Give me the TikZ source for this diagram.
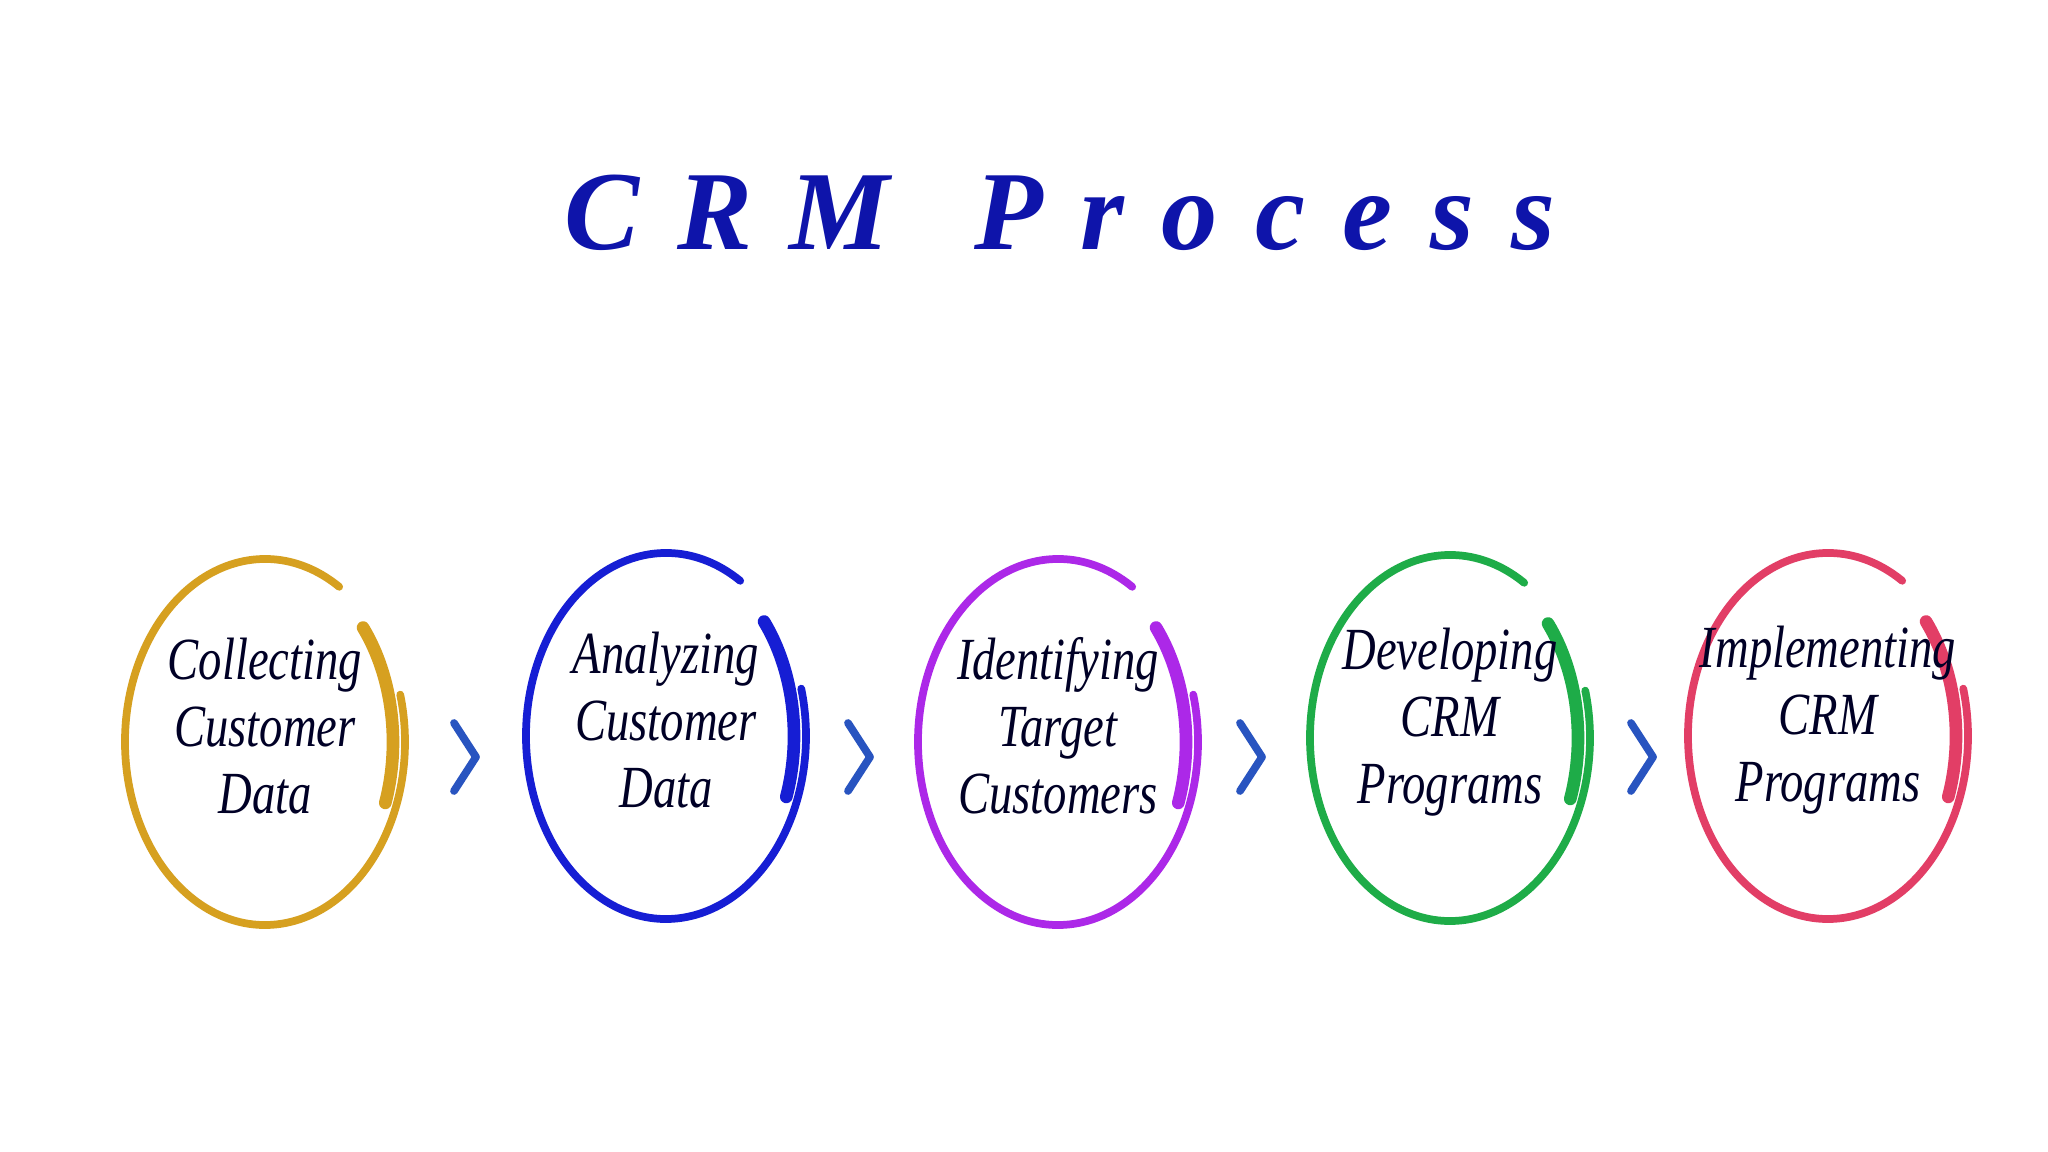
\documentclass[tikz,border=0pt]{standalone}
\usepackage{fontspec}
\usetikzlibrary{calc}
\setmainfont{Liberation Serif}
\newfontfamily\lbl[FakeStretch=0.78]{Liberation Serif}
\definecolor{cgold}{RGB}{214,160,32}
\definecolor{cblue}{RGB}{22,30,212}
\definecolor{cpurp}{RGB}{172,40,232}
\definecolor{cgreen}{RGB}{30,172,72}
\definecolor{cred}{RGB}{226,62,102}
\definecolor{ctitle}{RGB}{14,20,170}
\definecolor{cchev}{RGB}{40,84,192}
\begin{document}
\begin{tikzpicture}[x=0.01cm,y=-0.01cm,
  lab/.style={align=center,font=\lbl\itshape\fontsize{17}{19}\selectfont,text=black!85!blue},
  chev/.style={draw=cchev,line width=2.2pt,line cap=round,line join=round}]
\useasboundingbox (0,0) rectangle (2048,1152);
\fill[white] (0,0) rectangle (2048,1152);
\node[font=\bfseries\itshape\fontsize{32}{36}\selectfont,text=ctitle] (title) at (1060,213)
  {C\,\,R\,\,M\,\,\, P\,\,r\,\,o\,\,c\,\,e\,\,s\,\,s};
\foreach \cx/\cy/\col/\t [count=\i] in
 {265/742/cgold/{Collecting\\Customer\\Data},
  666/736/cblue/{Analyzing\\Customer\\Data},
  1058/742/cpurp/{Identifying\\Target\\Customers},
  1450/738/cgreen/{Developing\\CRM\\Programs},
  1828/736/cred/{Implementing\\CRM\\Programs}}{
  \draw[\col,line width=2.2pt,line cap=round] (\cx,\cy) ++(-58:140 and 183) arc[start angle=-58,end angle=-375,x radius=140,y radius=183];
  \draw[\col,line width=3.6pt,line cap=round] (\cx,\cy) ++(-40:128 and 178) arc[start angle=-40,end angle=20,x radius=128,y radius=178];
  \node[lab] (c\i) at (\cx,\cy-16) {\t};
}
\foreach \x [count=\j] in {464,858,1250,1641}{
  \coordinate (k\j) at (\x,757);
  \draw[chev] ($(k\j)+(-10,-34)$) -- ($(k\j)+(12,0)$) -- ($(k\j)+(-10,34)$);
}
\end{tikzpicture}
\end{document}
